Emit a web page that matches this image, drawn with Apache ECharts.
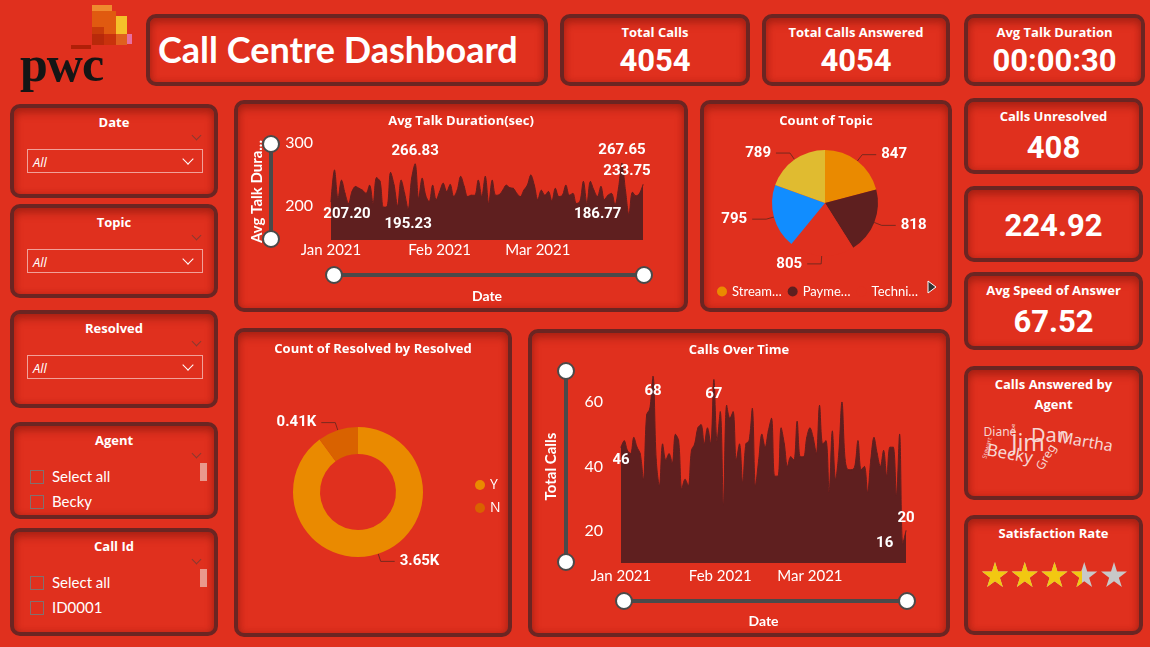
<!DOCTYPE html>
<html>
<head>
<meta charset="utf-8">
<title>Call Centre Dashboard</title>
<script src="https://cdn.jsdelivr.net/npm/echarts@6.0.0/dist/echarts.min.js"></script>
<style>
  html, body { margin: 0; padding: 0; }
  body { width: 1150px; height: 647px; background: #e0301e; position: relative; overflow: hidden; color: #fff; font-family: 'Open Sans', sans-serif; }
  .card { position: absolute; box-sizing: border-box; border: 4px solid #6b2522; border-radius: 10px; background: #e0301e;
          box-shadow: inset 0 5px 9px rgba(120, 20, 10, .45), inset 0 0 6px rgba(120, 20, 10, .3); }
  .ttl { position: absolute; left: 0; right: 0; top: 6px; text-align: center; font-weight: 700; font-size: 13px; line-height: 16px; }
  .val { position: absolute; left: 0; right: 0; text-align: center; font-family: 'Roboto', sans-serif; font-weight: 700; font-size: 31px; line-height: 34px; }
  .chart { position: absolute; z-index: 2; }
  .chev { position: absolute; width: 6px; height: 6px; border-right: 1.3px solid; border-bottom: 1.3px solid; transform: rotate(45deg); }
  .drop { position: absolute; left: 13px; width: 176px; height: 24px; box-sizing: border-box; border: 1.5px solid rgba(255, 255, 255, .55); }
  .drop span { position: absolute; left: 5px; top: 3px; font-style: italic; font-size: 13px; }
  .item { position: absolute; left: 16px; font-family: 'Lato', sans-serif; font-size: 15px; line-height: 18px; }
  .item i { display: inline-block; width: 12px; height: 12px; border: 1px solid rgba(120, 120, 120, .9); vertical-align: -2px; margin-right: 8px; }
  .scroll { position: absolute; left: 186px; top: 37px; width: 7px; height: 18px; background: rgba(235, 170, 160, .85); }
  .word { position: absolute; white-space: nowrap; color: #f7d6d2; font-family: 'Noto Sans', sans-serif; line-height: 1; }
  .sq { position: absolute; }
</style>
</head>
<body>

<!-- pwc logo -->
<div class="sq" style="left:92px;top:5px;width:20px;height:6px;background:#ef8a2e"></div>
<div class="sq" style="left:112px;top:11px;width:4px;height:5px;background:#f2b27e"></div>
<div class="sq" style="left:92px;top:11px;width:24px;height:23px;background:#e05a10"></div>
<div class="sq" style="left:92px;top:27px;width:12px;height:7px;background:#c83a0a"></div>
<div class="sq" style="left:116px;top:16px;width:11px;height:18px;background:#f5c02a"></div>
<div class="sq" style="left:92px;top:34px;width:12px;height:11px;background:#b8290a"></div>
<div class="sq" style="left:104px;top:34px;width:12px;height:11px;background:#c9320c"></div>
<div class="sq" style="left:116px;top:34px;width:11px;height:11px;background:#e0601e"></div>
<div class="sq" style="left:127px;top:34px;width:5px;height:10px;background:#e76fa0"></div>
<div class="sq" style="left:71px;top:45px;width:20px;height:4px;background:#b01f08"></div>
<div style="position:absolute;left:20px;top:39px;font-family:'Liberation Serif',serif;font-weight:700;font-size:50px;letter-spacing:-1px;color:#151515;line-height:50px">pwc</div>

<!-- title -->
<div class="card" style="left:146px;top:14px;width:402px;height:72px">
  <div style="position:absolute;left:8px;top:10px;font-family:'Comic Sans MS','Lato',sans-serif;font-weight:700;font-size:36px;line-height:42px">Call Centre Dashboard</div>
</div>

<div id="kpis"></div>
<div id="slicers"></div>

<div class="card" style="left:234px;top:100px;width:454px;height:212px"></div>
<div class="card" style="left:700px;top:100px;width:252px;height:212px"></div>
<div class="card" style="left:234px;top:328px;width:278px;height:309px"></div>
<div class="card" style="left:528px;top:329px;width:422px;height:308px"></div>
<div class="card" style="left:964px;top:366px;width:179px;height:134px">
  <div class="ttl" style="top:4px;line-height:20px">Calls Answered by<br>Agent</div>
</div>
<div class="card" style="left:964px;top:515px;width:179px;height:120px">
  <div class="ttl">Satisfaction Rate</div>
</div>
<div id="cloud"></div>

<div id="talk" class="chart" style="left:234px;top:100px;width:454px;height:212px"></div>
<div id="topic" class="chart" style="left:700px;top:100px;width:252px;height:212px"></div>
<div id="resolved" class="chart" style="left:234px;top:328px;width:278px;height:309px"></div>
<div id="calls" class="chart" style="left:528px;top:329px;width:422px;height:308px"></div>
<div id="stars" class="chart" style="left:964px;top:515px;width:179px;height:120px"></div>

<script>
// ---- data ----
const kpiTitles = ['Total Calls', 'Total Calls Answered', 'Avg Talk Duration', 'Calls Unresolved', '', 'Avg Speed of Answer']
const kpiValues = ['4054', '4054', '00:00:30', '408', '224.92', '67.52']

const slicerTitles = ['Date', 'Topic', 'Resolved', 'Agent', 'Call Id']
const slicerItems = [['All'], ['All'], ['All'], ['Select all', 'Becky'], ['Select all', 'ID0001']]

const topicNames = ['Streaming', 'Payment related', 'Technical Support', 'Admin Support', 'Contract related']
const topicCounts = [847, 818, 805, 795, 789]

const resolvedNames = ['Y', 'N']
const resolvedCounts = [3646, 408]

const agents = ['Jim', 'Dan', 'Becky', 'Martha', 'Diane', 'Greg', 'Joe', 'Stewart']

const satisfaction = 3.45
const maxRating = 5

// one point per day, 1 Jan to 31 Mar 2021
const dates = []
for (let d = new Date(Date.UTC(2021, 0, 1)); d <= new Date(Date.UTC(2021, 2, 31)); d.setUTCDate(d.getUTCDate() + 1)) {
  dates.push(d.toISOString().slice(0, 10))
}

const talkDuration = [
  207.20, 257, 212, 241, 220, 204, 223, 231, 228, 225,
  220, 233, 204, 245, 239, 198, 199, 253, 233, 200,
  241, 220, 195.23, 244, 266.83, 212, 244, 217, 207, 233,
  210, 223, 236, 223, 234, 215, 225, 247, 231, 215,
  217, 217, 241, 215, 247, 204, 241, 217, 218, 225,
  233, 229, 228, 220, 215, 225, 233, 249, 233, 210,
  225, 217, 223, 208, 228, 215, 217, 233, 217, 220,
  204, 207, 239, 204, 239, 225, 215, 231, 210, 217,
  220, 202, 228, 267.65, 225, 186.77, 222, 216, 220, 233.75
]

const callsPerDay = [
  46, 48, 45, 44, 49, 46, 44, 36, 56, 58,
  68, 42, 34, 47, 42, 44, 41, 50, 48, 33,
  36, 34, 45, 47, 52, 53, 47, 52, 47, 67,
  48, 57, 28, 59, 55, 57, 42, 47, 35, 47,
  48, 58, 34, 42, 50, 46, 51, 55, 37, 37,
  52, 47, 40, 43, 42, 54, 43, 43, 49, 52,
  49, 44, 59, 47, 48, 32, 51, 36, 44, 60,
  42, 39, 39, 40, 48, 39, 40, 32, 42, 49,
  44, 40, 45, 37, 46, 46, 31, 50, 16, 20
]

// which points carry a data label in the reference, and where it sits
const talkMarks = { 0: ['bottom', [16, 0]], 22: ['bottom', [0, 2]], 24: ['top', [0, 0]], 83: ['top', [0, 0]], 85: ['left', [-2, 0]], 89: ['top', [-16, 0]] }
const callMarks = { 0: ['bottom', [0, 0]], 10: ['bottom', [0, 2]], 29: ['bottom', [0, 2]], 88: ['left', [-4, 0]], 89: ['top', [0, 0]] }

// ---- layout ----
const FONT_TITLE = "'Segoe UI','Open Sans',sans-serif"
const FONT_COMIC = "'Comic Sans MS','Lato',sans-serif"
const FONT_NUM = "'Roboto','DejaVu Sans',sans-serif"
const AREA = '#5f1f1f'
const TRACK = '#4a4a4a'

const kpiBoxes = [[560, 14, 190, 72, 26], [762, 14, 188, 72, 26], [964, 14, 181, 72, 26], [964, 98, 179, 76, 29], [964, 186, 179, 76, 19], [964, 272, 179, 78, 29]]
const slicerBoxes = [[10, 104, 208, 94], [10, 204, 208, 94], [10, 310, 208, 98], [10, 422, 208, 97], [10, 528, 208, 108]]
const wordLayout = [
  [1028, 442, 23, 0], [1050, 435, 20, 0], [1010, 453, 17, 10], [1086, 441, 16, 10],
  [1000, 432, 12, 0], [1046, 457, 12, -60], [1013, 428, 6, -90], [987, 448, 6, -75]
]

let html = ''
kpiTitles.forEach((t, i) => {
  const [x, y, w, h, vTop] = kpiBoxes[i]
  html += `<div class="card" style="left:${x}px;top:${y}px;width:${w}px;height:${h}px">` +
    (t ? `<div class="ttl">${t}</div>` : '') +
    `<div class="val" style="top:${vTop}px">${kpiValues[i]}</div></div>`
})
document.getElementById('kpis').innerHTML = html

html = ''
slicerTitles.forEach((t, i) => {
  const [x, y, w, h] = slicerBoxes[i]
  let inner = `<div class="ttl">${t}</div><div class="chev" style="left:179px;top:24px;color:#8a3a30"></div>`
  const items = slicerItems[i]
  if (items.length === 1) {
    inner += `<div class="drop" style="top:41px"><span>${items[0]}</span><div class="chev" style="left:156px;top:5px;color:#fff;width:7px;height:7px"></div></div>`
  } else {
    items.forEach((it, k) => { inner += `<div class="item" style="top:${41 + k * 25}px"><i></i>${it}</div>` })
    inner += '<div class="scroll"></div>'
  }
  html += `<div class="card" style="left:${x}px;top:${y}px;width:${w}px;height:${h}px">${inner}</div>`
})
document.getElementById('slicers').innerHTML = html

html = ''
agents.forEach((a, i) => {
  const [cx, cy, size, rot] = wordLayout[i]
  html += `<div class="word" style="left:${cx}px;top:${cy}px;font-size:${size}px;transform:translate(-50%,-50%) rotate(${rot}deg)">${a}</div>`
})
document.getElementById('cloud').innerHTML = html

// ---- charts ----
const months = ['Jan', 'Feb', 'Mar', 'Apr', 'May', 'Jun', 'Jul', 'Aug', 'Sep', 'Oct', 'Nov', 'Dec']
const monthLabel = v => months[+v.slice(5, 7) - 1] + ' ' + v.slice(0, 4)
const firstOfMonth = (i, v) => v.slice(8) === '01'
const titleStyle = { color: '#fff', fontSize: 13, fontWeight: 'bold', fontFamily: FONT_TITLE }

function markedData(values, marks) {
  return values.map((v, i) => marks[i]
    ? { value: v, label: { show: true, position: marks[i][0], offset: marks[i][1] } }
    : v)
}

function sliders(grid, hTop, vLeft) {
  const common = {
    type: 'slider', filterMode: 'none', start: 0, end: 100,
    showDetail: false, showDataShadow: false, brushSelect: false, moveHandleSize: 0,
    borderColor: 'transparent', backgroundColor: TRACK, fillerColor: TRACK,
    handleIcon: 'circle', handleSize: 16,
    handleStyle: { color: '#fff', borderColor: TRACK, borderWidth: 2 },
    emphasis: { handleStyle: { color: '#fff', borderColor: TRACK, borderWidth: 2 } }
  }
  return [
    { ...common, xAxisIndex: 0, left: grid.left, right: grid.right, top: hTop, height: 4 },
    { ...common, yAxisIndex: 0, orient: 'vertical', left: vLeft, top: grid.top, height: grid.height, width: 4 }
  ]
}

function areaOption(cfg) {
  const nameStyle = { color: '#fff', fontSize: 15, fontWeight: 'bold', fontFamily: FONT_COMIC }
  return {
    animation: false,
    title: { text: cfg.title, left: 'center', top: 10, textStyle: titleStyle },
    grid: cfg.grid,
    xAxis: {
      type: 'category', data: dates, boundaryGap: false,
      axisLine: { show: false }, axisTick: { show: false }, splitLine: { show: false },
      axisLabel: { interval: firstOfMonth, formatter: monthLabel, color: '#fff', fontSize: 15, fontFamily: FONT_COMIC, margin: cfg.xMargin },
      name: 'Date', nameLocation: 'middle', nameGap: cfg.xNameGap, nameTextStyle: { ...nameStyle, fontSize: 14 }
    },
    yAxis: {
      type: 'value', min: cfg.min, max: cfg.max, interval: cfg.interval, splitNumber: cfg.splitNumber,
      splitLine: { show: false }, axisLine: { show: false }, axisTick: { show: false },
      axisLabel: { formatter: v => (v % cfg.labelStep === 0 ? v : ''), color: '#fff', fontSize: 16, fontFamily: FONT_COMIC, margin: 18 },
      name: cfg.yName, nameLocation: 'middle', nameGap: cfg.yNameGap, nameTextStyle: nameStyle
    },
    dataZoom: sliders(cfg.grid, cfg.hSlider, cfg.vSlider),
    series: [{
      type: 'line',
      data: markedData(cfg.values, cfg.marks),
      smooth: 0.35,
      showSymbol: true, showAllSymbol: true, symbol: 'circle', symbolSize: 1,
      itemStyle: { color: AREA },
      lineStyle: { color: AREA, width: 1 },
      areaStyle: { color: AREA, opacity: 1 },
      label: { show: false, color: '#fff', fontSize: 15, fontWeight: 'bold', fontFamily: FONT_NUM, formatter: cfg.fmt }
    }]
  }
}

echarts.init(document.getElementById('talk')).setOption(areaOption({
  title: 'Avg Talk Duration(sec)',
  grid: { left: 97, right: 45, top: 43, height: 97 },
  min: 146, max: 300, splitNumber: 2, labelStep: 100,
  xMargin: 3, xNameGap: 49,
  yName: 'Avg Talk Dura...', yNameGap: 66,
  hSlider: 173, vSlider: 34,
  values: talkDuration, marks: talkMarks,
  fmt: p => p.value.toFixed(2)
}))

echarts.init(document.getElementById('calls')).setOption(areaOption({
  title: 'Calls Over Time',
  grid: { left: 93, right: 44, top: 41, height: 193 },
  min: 10, max: 70, interval: 10, labelStep: 20,
  xMargin: 6, xNameGap: 51,
  yName: 'Total Calls', yNameGap: 62,
  hSlider: 270, vSlider: 35,
  values: callsPerDay, marks: callMarks,
  fmt: p => p.value
}))

const pieLabel = { color: '#fff', fontSize: 15, fontWeight: 'bold', fontFamily: FONT_NUM }
const pieLine = { length: 8, length2: 14, lineStyle: { color: 'rgba(110, 40, 30, .9)', width: 1 } }

echarts.init(document.getElementById('topic')).setOption({
  animation: false,
  color: ['#ea8a00', '#5e1f1f', '#e0301e', '#118dff', '#e0bb30'],
  title: { text: 'Count of Topic', left: 'center', top: 10, textStyle: titleStyle },
  legend: {
    data: topicNames.slice(0, 3), left: 12, top: 180,
    icon: 'circle', itemWidth: 10, itemHeight: 10, itemGap: 6,
    textStyle: { color: '#fff', fontSize: 13, fontFamily: FONT_COMIC, width: 52, overflow: 'truncate', ellipsis: '…' }
  },
  graphic: [{ type: 'polygon', shape: { points: [[228, 181], [236, 187], [228, 193]] }, style: { fill: '#333', stroke: '#fff', lineWidth: 1 } }],
  series: [{
    type: 'pie', center: [125, 103], radius: 53, startAngle: 90,
    data: topicNames.map((n, i) => ({ name: n, value: topicCounts[i] })),
    label: { ...pieLabel, formatter: '{c}' },
    labelLine: pieLine
  }]
})

echarts.init(document.getElementById('resolved')).setOption({
  animation: false,
  color: ['#ea8a00', '#d96200'],
  title: { text: 'Count of Resolved by Resolved', left: 'center', top: 10, textStyle: titleStyle },
  legend: {
    orient: 'vertical', left: 236, top: 145, icon: 'circle', itemWidth: 10, itemHeight: 10, itemGap: 9,
    textStyle: { color: '#fff', fontSize: 14, fontFamily: FONT_TITLE }
  },
  series: [{
    type: 'pie', center: [124, 164], radius: [38, 65], startAngle: 90,
    data: resolvedNames.map((n, i) => ({ name: n, value: resolvedCounts[i] })),
    label: { ...pieLabel, formatter: p => (p.value / 1000).toFixed(2) + 'K' },
    labelLine: pieLine
  }]
})

const STAR = 'path://M50,0L61,35L98,35L68,57L79,91L50,70L21,91L32,57L2,35L39,35Z'
echarts.init(document.getElementById('stars')).setOption({
  animation: false,
  grid: { left: 18, width: 145, top: 46, height: 27 },
  xAxis: { type: 'value', min: 0, max: maxRating, show: false },
  yAxis: { type: 'category', data: ['Satisfaction'], show: false },
  series: [
    { type: 'pictorialBar', symbol: STAR, symbolRepeat: maxRating, symbolSize: [26, 25], symbolBoundingData: maxRating,
      data: [maxRating], itemStyle: { color: '#c8c8c8' }, z: 1 },
    { type: 'pictorialBar', symbol: STAR, symbolRepeat: maxRating, symbolSize: [26, 25], symbolBoundingData: maxRating,
      symbolClip: true, barGap: '-100%', data: [satisfaction], itemStyle: { color: '#f2c811' }, z: 2 }
  ]
})
</script>
</body>
</html>
